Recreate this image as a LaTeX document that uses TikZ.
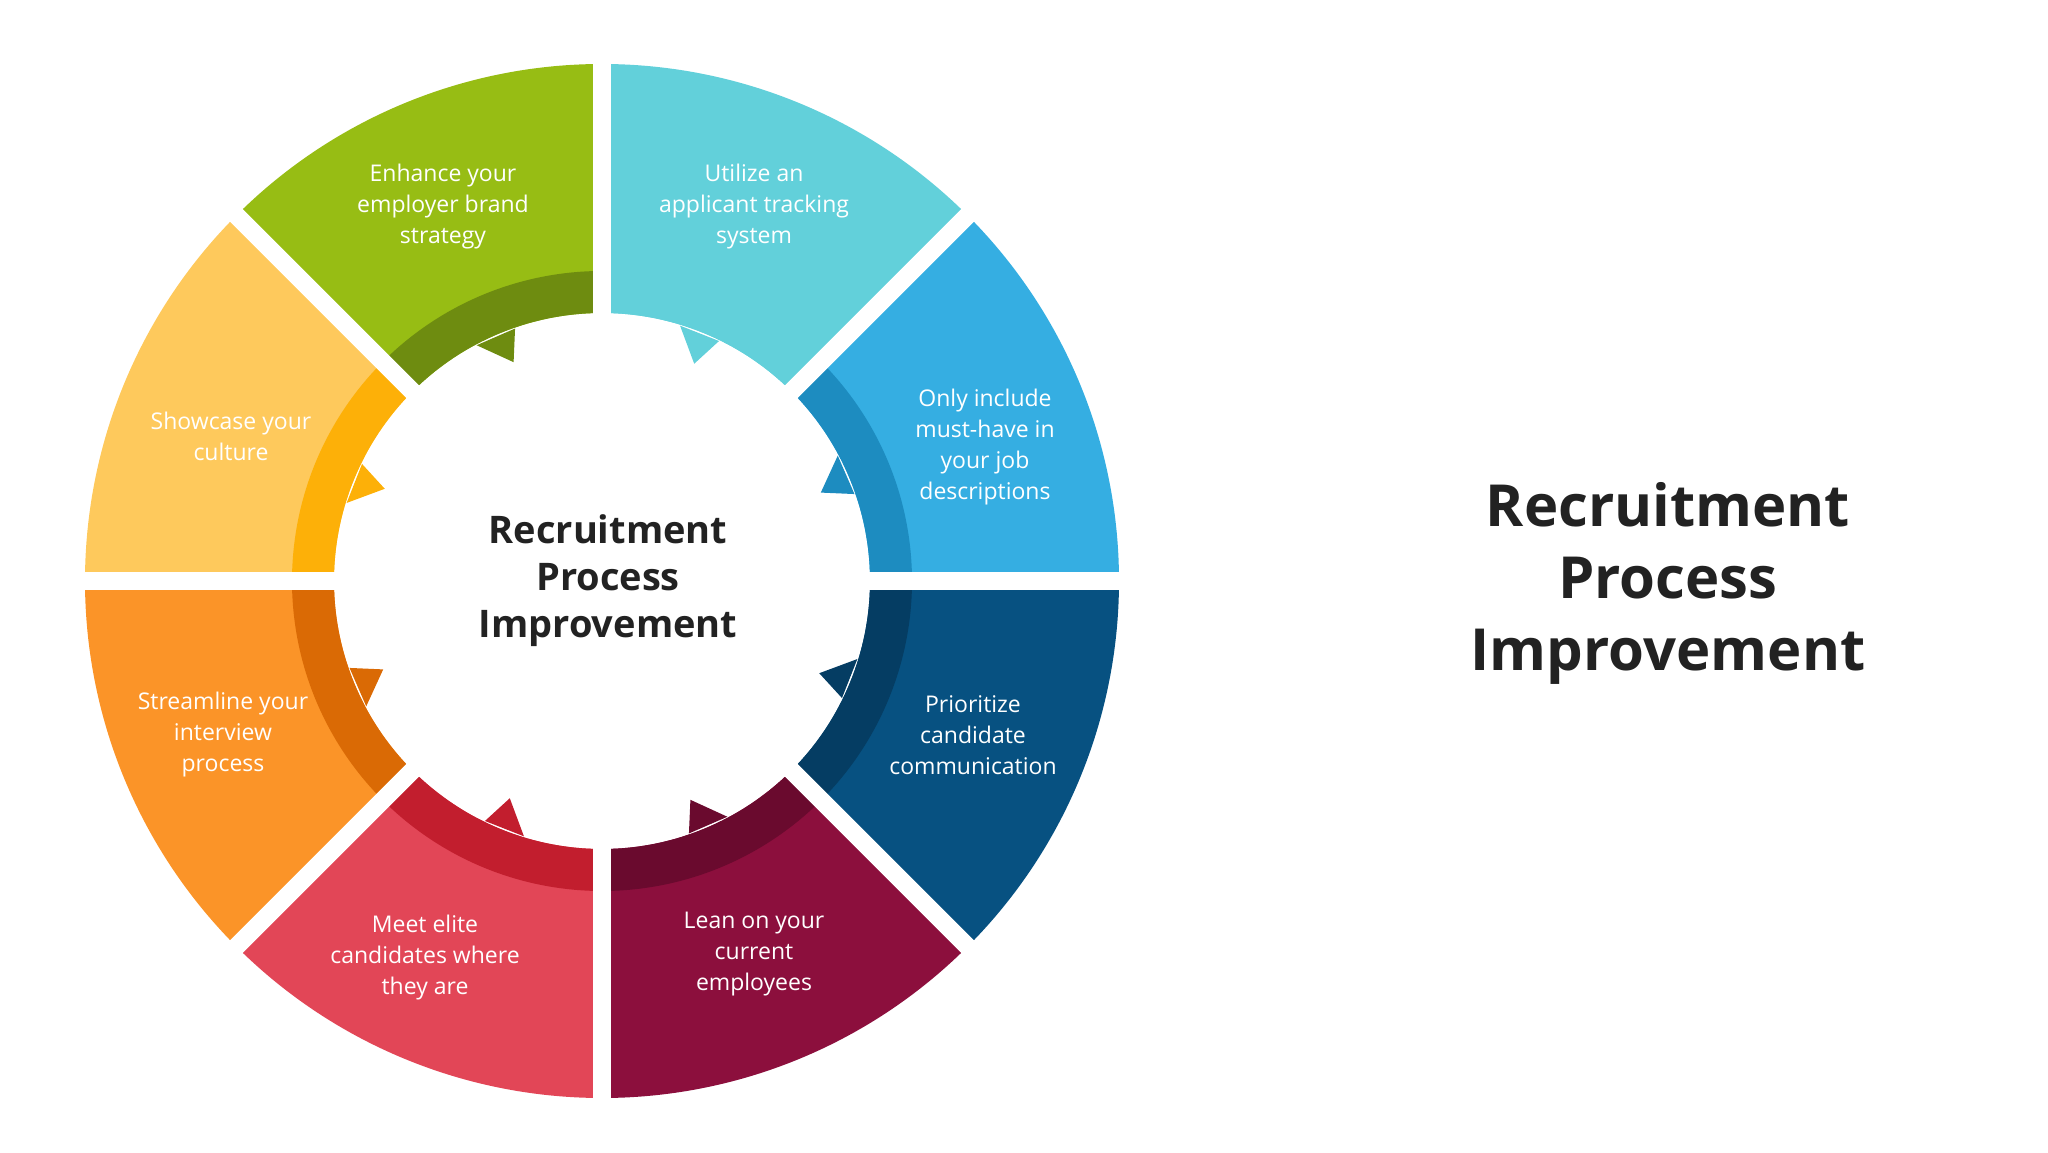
\documentclass[tikz,border=0pt]{standalone}
\usepackage{fontspec}
\setmainfont{Open Sans}
\usetikzlibrary{positioning}
\definecolor{grn}{HTML}{97BD14}\definecolor{grnD}{HTML}{6E8C10}
\definecolor{cyn}{HTML}{62D0DA}
\definecolor{blu}{HTML}{35AEE2}\definecolor{bluD}{HTML}{1D8CC0}
\definecolor{nvy}{HTML}{075181}\definecolor{nvyD}{HTML}{053D63}
\definecolor{mrn}{HTML}{8C0F3D}\definecolor{mrnD}{HTML}{6A0A2E}
\definecolor{rse}{HTML}{E24657}\definecolor{rseD}{HTML}{C21E2E}
\definecolor{org}{HTML}{FB9428}\definecolor{orgD}{HTML}{DA6A05}
\definecolor{ylw}{HTML}{FEC95C}\definecolor{ylwD}{HTML}{FDB008}
\definecolor{ink}{HTML}{222222}
\begin{document}
\begin{tikzpicture}[
    x=1pt, y=1pt,
    stage/.style={text=white, align=center, font=\fontsize{23}{31}\selectfont},
    hub/.style={text=ink, align=center, font=\bfseries\fontsize{38}{47}\selectfont},
    heading/.style={text=ink, align=center, font=\bfseries\fontsize{58}{72}\selectfont},
    gap/.style={white, line width=18pt}
]
\useasboundingbox (0,0) rectangle (2048,1152);

% Wheel sectors
\begin{scope}[shift={(602,571)}]
\coordinate (hubc) at (0,0);
\foreach \a/\main/\dark in {135/grn/grnD, 90/cyn/cyn, 45/blu/bluD, 0/nvy/nvyD,
                            -45/mrn/mrnD, -90/rse/rseD, -135/org/orgD, 180/ylw/ylwD}{
    \fill[\main] (\a:517) arc[start angle=\a, end angle=\a-45, radius=517]
        -- (\a-45:268) arc[start angle=\a-45, end angle=\a, radius=268] -- cycle;
    \fill[\dark] (\a:310) arc[start angle=\a, end angle=\a-45, radius=310]
        -- (\a-45:268) arc[start angle=\a-45, end angle=\a, radius=268] -- cycle;
    \fill[\dark] (\a-17:267) -- (\a-23:236) -- (\a-26:267) -- cycle;
}
% White gaps
\foreach \t in {0,45,...,315}
    \draw[gap] (hubc) -- (\t:530);
\end{scope}

% Labels
\node[stage] (brand) at (443,945) {Enhance your\\employer brand\\strategy};
\node[stage] (ats) at (754,945) {Utilize an\\applicant tracking\\system};
\node[stage] (jobs) at (985,705) {Only include\\must-have in\\your job\\descriptions};
\node[stage] (comm) at (973,417) {Prioritize\\candidate\\communication};
\node[stage] (staff) at (754,198) {Lean on your\\current\\employees};
\node[stage] (elite) at (425,194) {Meet elite\\candidates where\\they are};
\node[stage] (interview) at (223,417) {Streamline your\\interview\\process};
\node[stage] (culture) at (231,716) {Showcase your\\culture};

\node[hub] (center) at (608,571) {Recruitment\\Process\\Improvement};
\node[heading] (title) at (1668,569) {Recruitment\\Process\\Improvement};
\end{tikzpicture}
\end{document}
